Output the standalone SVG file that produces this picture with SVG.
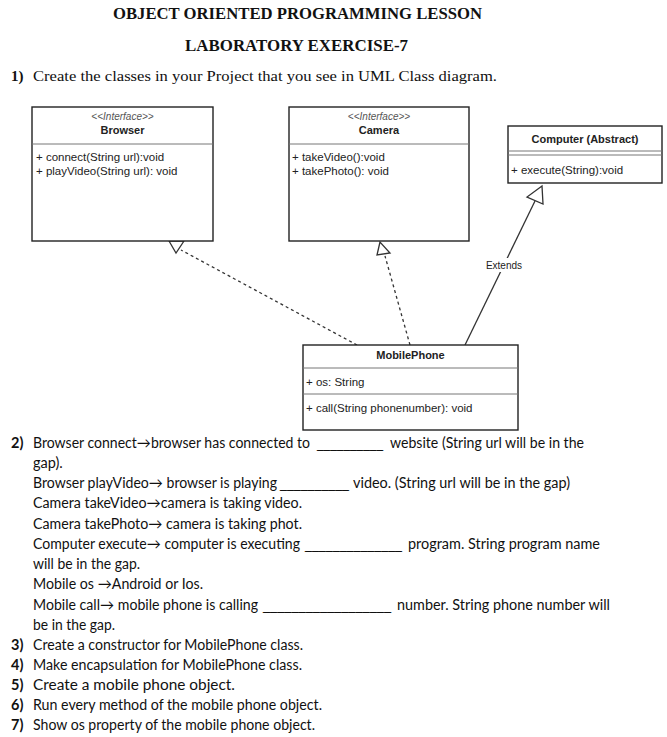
<svg xmlns="http://www.w3.org/2000/svg" width="667" height="737" viewBox="0 0 667 737">
<style>
.hdr{font-family:"Liberation Serif","Times New Roman",serif;font-weight:bold;font-size:16px;fill:#111}
.ser{font-family:"Liberation Serif","Times New Roman",serif;font-size:15px;fill:#111}
.box{fill:#fff;stroke:#222;stroke-width:1.4}
.div{stroke:#777;stroke-width:1}
.st{font-family:"Liberation Sans",Arial,sans-serif;font-size:10px;font-style:italic;fill:#555;text-anchor:middle}
.nm{font-family:"Liberation Sans",Arial,sans-serif;font-size:11px;font-weight:bold;fill:#222;text-anchor:middle}
.mt{font-family:"Liberation Sans",Arial,sans-serif;font-size:11.5px;fill:#222}
.lab{font-family:"Liberation Sans",Arial,sans-serif;font-size:10px;fill:#222;text-anchor:middle}
.tx{font-family:Lato,"Open Sans",sans-serif;font-size:14.5px;fill:#111}
.us{font-family:"Liberation Sans",Arial,sans-serif;font-size:14.5px;fill:#111}
.num{font-family:Lato,"Open Sans",sans-serif;font-size:14.5px;font-weight:bold;fill:#111}
.dash{fill:none;stroke:#333;stroke-width:1.3;stroke-dasharray:3,3}
.solid{fill:none;stroke:#333;stroke-width:1.3}
.tri{fill:#fff;stroke:#333;stroke-width:1.3;stroke-linejoin:miter}
</style>
<rect width="667" height="737" fill="#fff"/>
<g id="header">
<text class="hdr" x="113" y="19" textLength="369" lengthAdjust="spacingAndGlyphs">OBJECT ORIENTED PROGRAMMING LESSON</text>
<text class="hdr" x="185" y="51" textLength="223" lengthAdjust="spacingAndGlyphs">LABORATORY EXERCISE-7</text>
<text class="ser" x="11" y="81"><tspan font-weight="bold">1)</tspan></text>
<text class="ser" x="33" y="81" textLength="464" lengthAdjust="spacingAndGlyphs">Create the classes in your Project that you see in UML Class diagram.</text>
</g>
<g id="connectors">
<line class="dash" x1="357" y1="345" x2="181" y2="250"/>
<polygon class="tri" points="169,241 184,241 176,253"/>
<line class="dash" x1="410" y1="345" x2="385" y2="256"/>
<polygon class="tri" points="380,242 377,255 390,253"/>
<line class="solid" x1="465" y1="345" x2="535" y2="201"/>
<polygon class="tri" points="542,186 527,197 543,204"/>
<rect x="484" y="258" width="41" height="14" fill="#fff"/>
<text class="lab" x="504" y="269">Extends</text>
</g>
<g id="Browser">
<rect class="box" x="32" y="107" width="181" height="134"/>
<line class="div" x1="32" y1="144" x2="213" y2="144"/>
<text class="st" x="122.5" y="120">&lt;&lt;Interface&gt;&gt;</text>
<text class="nm" x="122.5" y="134">Browser</text>
<text class="mt" x="36" y="161">+ connect(String url):void</text>
<text class="mt" x="36" y="175">+ playVideo(String url): void</text>
</g>
<g id="Camera">
<rect class="box" x="289" y="107" width="180" height="134"/>
<line class="div" x1="289" y1="144" x2="469" y2="144"/>
<text class="st" x="379" y="120">&lt;&lt;Interface&gt;&gt;</text>
<text class="nm" x="379" y="134">Camera</text>
<text class="mt" x="292" y="161">+ takeVideo():void</text>
<text class="mt" x="292" y="175">+ takePhoto(): void</text>
</g>
<g id="Computer">
<rect class="box" x="508" y="126" width="154" height="57"/>
<line class="div" x1="508" y1="151" x2="662" y2="151"/>
<line class="div" x1="508" y1="155" x2="662" y2="155"/>
<text class="nm" x="585" y="143">Computer (Abstract)</text>
<text class="mt" x="511" y="174">+ execute(String):void</text>
</g>
<g id="MobilePhone">
<rect class="box" x="303" y="345" width="215" height="85"/>
<line class="div" x1="303" y1="368" x2="518" y2="368"/>
<line class="div" x1="303" y1="394" x2="518" y2="394"/>
<text class="nm" x="410.5" y="359">MobilePhone</text>
<text class="mt" x="306" y="386">+ os: String</text>
<text class="mt" x="306" y="412">+ call(String phonenumber): void</text>
</g>
<g id="questions">
<text class="num" x="11" y="448">2)</text>
<text class="tx" x="33" y="448" textLength="277" lengthAdjust="spacingAndGlyphs">Browser connect→browser has connected to</text>
<text class="us" x="317" y="448" textLength="66" lengthAdjust="spacingAndGlyphs">__________</text>
<text class="tx" x="390" y="448" textLength="194" lengthAdjust="spacingAndGlyphs">website (String url will be in the</text>
<text class="tx" x="33" y="468">gap).</text>
<text class="tx" x="33" y="488" textLength="244" lengthAdjust="spacingAndGlyphs">Browser playVideo→ browser is playing</text>
<text class="us" x="280" y="488" textLength="69" lengthAdjust="spacingAndGlyphs">__________</text>
<text class="tx" x="353" y="488" textLength="217" lengthAdjust="spacingAndGlyphs">video. (String url will be in the gap)</text>
<text class="tx" x="33" y="508" textLength="269" lengthAdjust="spacingAndGlyphs">Camera takeVideo→camera is taking video.</text>
<text class="tx" x="33" y="529" textLength="269" lengthAdjust="spacingAndGlyphs">Camera takePhoto→ camera is taking phot.</text>
<text class="tx" x="33" y="549" textLength="267" lengthAdjust="spacingAndGlyphs">Computer execute→ computer is executing</text>
<text class="us" x="305" y="549" textLength="97" lengthAdjust="spacingAndGlyphs">______________</text>
<text class="tx" x="408" y="549" textLength="192" lengthAdjust="spacingAndGlyphs">program. String program name</text>
<text class="tx" x="33" y="569" textLength="107" lengthAdjust="spacingAndGlyphs">will be in the gap.</text>
<text class="tx" x="33" y="589" textLength="170" lengthAdjust="spacingAndGlyphs">Mobile os →Android or Ios.</text>
<text class="tx" x="33" y="610" textLength="225" lengthAdjust="spacingAndGlyphs">Mobile call→ mobile phone is calling</text>
<text class="us" x="263" y="610" textLength="128" lengthAdjust="spacingAndGlyphs">__________________</text>
<text class="tx" x="397" y="610" textLength="213" lengthAdjust="spacingAndGlyphs">number. String phone number will</text>
<text class="tx" x="33" y="630" textLength="82" lengthAdjust="spacingAndGlyphs">be in the gap.</text>
<text class="num" x="11" y="650">3)</text>
<text class="tx" x="33" y="650" textLength="270" lengthAdjust="spacingAndGlyphs">Create a constructor for MobilePhone class.</text>
<text class="num" x="11" y="670">4)</text>
<text class="tx" x="33" y="670" textLength="269" lengthAdjust="spacingAndGlyphs">Make encapsulation for MobilePhone class.</text>
<text class="num" x="11" y="690">5)</text>
<text class="tx" x="33" y="690" textLength="202" lengthAdjust="spacingAndGlyphs">Create a mobile phone object.</text>
<text class="num" x="11" y="710">6)</text>
<text class="tx" x="33" y="710" textLength="289" lengthAdjust="spacingAndGlyphs">Run every method of the mobile phone object.</text>
<text class="num" x="11" y="730">7)</text>
<text class="tx" x="33" y="730" textLength="282" lengthAdjust="spacingAndGlyphs">Show os property of the mobile phone object.</text>
</g>
</svg>
